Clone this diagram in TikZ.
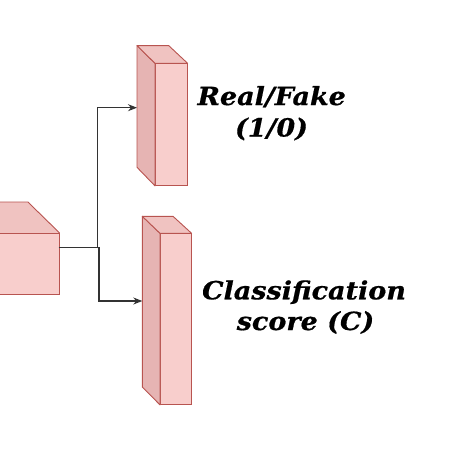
\documentclass[tikz,border=0pt]{standalone}
\usepackage{fontspec}
\newfontfamily\lblfont{DejaVu Serif}[FakeStretch=1.08, BoldItalicFeatures={FakeBold=0.6}]
\usetikzlibrary{arrows.meta}
\definecolor{facefront}{HTML}{F8CECC}
\definecolor{faceside}{HTML}{E6B4B3}
\definecolor{facetop}{HTML}{F0C3C1}
\definecolor{edgered}{HTML}{B85450}
\definecolor{wire}{HTML}{333333}
\tikzset{
  front/.style={draw=edgered, fill=facefront, inner sep=0pt, anchor=north west, line width=0.9pt},
  sideface/.style={draw=edgered, fill=faceside, line width=0.9pt, line join=round},
  topface/.style={draw=edgered, fill=facetop, line width=0.9pt, line join=round},
  wirearrow/.style={draw=wire, line width=1.2pt, -{Stealth[length=9pt,width=7pt]}},
  label/.style={font=\lblfont\bfseries\itshape\fontsize{25}{30}\selectfont, anchor=base, inner sep=0pt, text=black}
}
\begin{document}
\begin{tikzpicture}[x=1pt,y=-1pt]
\useasboundingbox (0,0) rectangle (474,474);
\begin{scope}
\clip (0,0) rectangle (474,474);
% left block
\node[front, minimum width=80pt, minimum height=61pt] (blk) at (-21.3,233) {};
\fill[facetop] (blk.north east) -- ++(-31.7,-31) -- ++(-60,0) -- (blk.north west) -- cycle;
\draw[topface] (blk.north east) -- ++(-31.7,-31) -- ++(-60,0);
\draw[edgered, line width=0.9pt] (blk.north west) -- (blk.north east) -- (blk.south east) -- (blk.south west);
\end{scope}
% top prism
\node[front, minimum width=31.7pt, minimum height=121.7pt] (rf) at (155,63.3) {};
\draw[sideface] (rf.north west) -- ++(-18,-17.7) -- ++(0,121.7) -- (rf.south west) -- cycle;
\draw[topface] (rf.north west) -- ++(-18,-17.7) -- ++(31.7,0) -- (rf.north east) -- cycle;
% bottom prism
\node[front, minimum width=30.7pt, minimum height=170.7pt] (cs) at (160,233.3) {};
\draw[sideface] (cs.north west) -- ++(-17.7,-17) -- ++(0,170.7) -- (cs.south west) -- cycle;
\draw[topface] (cs.north west) -- ++(-17.7,-17) -- ++(30.7,0) -- (cs.north east) -- cycle;
% connector points
\coordinate (out) at (58.7,247.7);
\coordinate (rfin) at (137,107.7);
\coordinate (csin) at (142.3,301);
\draw[wirearrow] (out) -- (97.7,247.7) |- (rfin);
\draw[wirearrow] (97.7,247.7) -- (99,247.7) |- (csin);
% labels
\node[label] (t1) at (271.7,105) {Real/Fake};
\node[label] (t2) at (271.5,136.5) {(1/0)};
\node[label] (t3) at (304,299.3) {Classification};
\node[label] (t4) at (305.5,330) {score (C)};
\end{tikzpicture}
\end{document}
